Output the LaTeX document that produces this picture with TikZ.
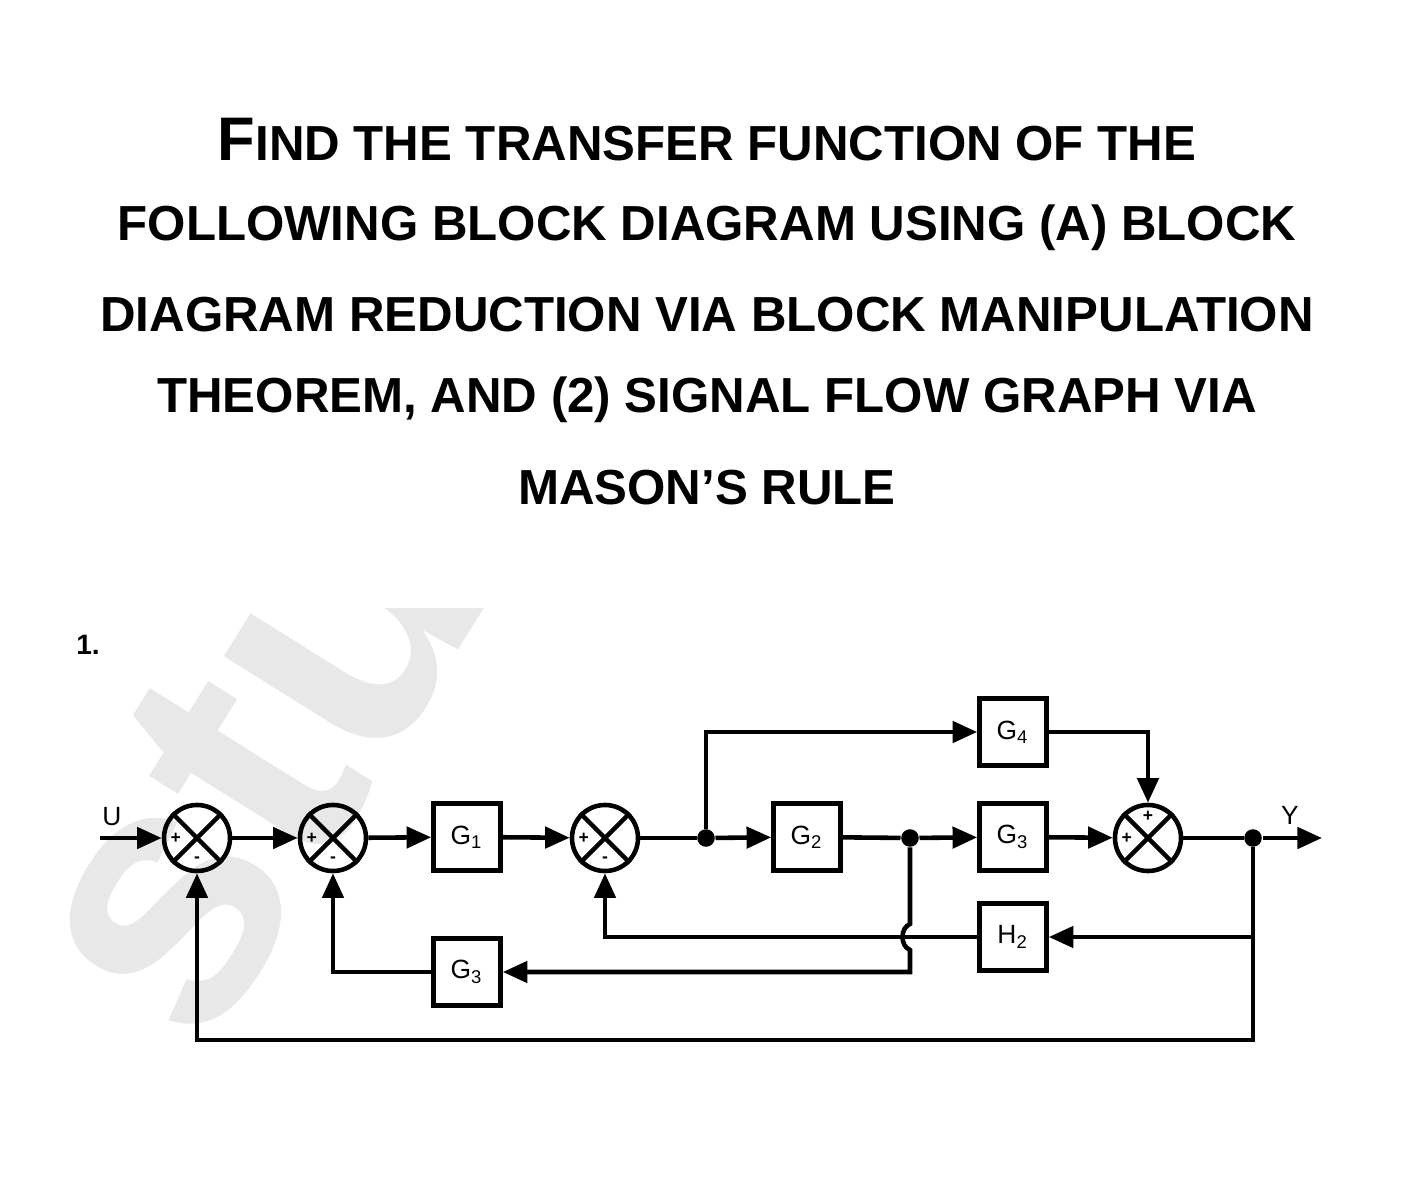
\documentclass[tikz,border=0pt]{standalone}
\usepackage{fontspec}
\setmainfont{Liberation Sans}
\usetikzlibrary{arrows.meta}
\tikzset{
  blk/.style={draw, line width=1.3pt, minimum width=0.67cm, minimum height=0.67cm, inner sep=0pt, font=\fontsize{7.5}{8}\selectfont},
  sumj/.style={draw, circle, line width=1.3pt, minimum size=0.66cm, inner sep=0pt},
  sig/.style={line width=1.3pt, -{Triangle[length=7pt,width=6pt]}},
  wire/.style={line width=1.3pt},
  pnt/.style={circle, fill, inner sep=0pt, minimum size=5pt},
  sgn/.style={font=\fontsize{5}{5}\selectfont\bfseries, inner sep=0pt}
}
\newcommand{\crossx}[1]{\draw[wire] (#1.north west)--(#1.south east) (#1.north east)--(#1.south west);}
\begin{document}
\begin{tikzpicture}[x=0.01cm,y=-0.01cm]
\useasboundingbox (0,0) rectangle (1414,1203);
% watermark
\begin{scope}
\clip (60,608) rectangle (700,1100);
\node[text=black!9, font=\fontsize{105}{105}\selectfont\bfseries, rotate=58] (wm) at (250,760) {stu};
\end{scope}
% title
\begin{scope}[every node/.style={font=\fontsize{14}{14}\selectfont\bfseries}]
\node (t1) at (707,140) {{\fontsize{17.5}{17}\selectfont F}IND THE TRANSFER FUNCTION OF THE};
\node (t2) at (707,228) {FOLLOWING BLOCK DIAGRAM USING (A) BLOCK};
\node (t3) at (707,315) {DIAGRAM REDUCTION VIA BLOCK MANIPULATION};
\node (t4) at (707,400) {THEOREM, AND (2) SIGNAL FLOW GRAPH VIA};
\node (t5) at (707,488) {MASON'S RULE};
\end{scope}
\node[font=\footnotesize\bfseries] (num) at (88,645) {1.};

% blocks
\node[sumj] (s1) at (197,838) {};
\node[sumj] (s2) at (333,838) {};
\node[blk] (g1) at (467,837) {G\textsubscript{1}};
\node[sumj] (s3) at (605,838) {};
\node[pnt] (d1) at (706,838) {};
\node[blk] (g2) at (807,837) {G\textsubscript{2}};
\node[pnt] (d2) at (910,838) {};
\node[blk] (g3) at (1013,837) {G\textsubscript{3}};
\node[blk] (g4) at (1013,732) {G\textsubscript{4}};
\node[sumj] (s4) at (1148,838) {};
\node[pnt] (d3) at (1253,838) {};
\node[blk] (h2) at (1013,937) {H\textsubscript{2}};
\node[blk] (g3b) at (467,972) {G\textsubscript{3}};
\foreach \s in {s1,s2,s3,s4} {\crossx{\s}}
\foreach \s in {s1,s2,s3} {
  \node[sgn] at ([xshift=4pt]\s.west) {+};
  \node[sgn] at ([yshift=4pt]\s.south) {-};
}
\node[sgn] at ([xshift=4pt]s4.west) {+};
\node[sgn] at ([yshift=-4pt]s4.north) {+};
\coordinate (uin) at (100,838);
\coordinate (yout) at (1322,838);
\node[font=\fontsize{7.5}{8}\selectfont] (ul) at (112,817) {U};
\node[font=\fontsize{7.5}{8}\selectfont] (yl) at (1290,815) {Y};

% forward path
\draw[sig] (uin) -- (s1);
\draw[sig] (s1) -- (s2);
\draw[sig] (s2) -- (g1);
\draw[sig] (g1) -- (s3);
\draw[wire] (s3) -- (d1);
\draw[sig] (d1) -- (g2);
\draw[wire] (g2) -- (d2);
\draw[sig] (d2) -- (g3);
\draw[sig] (g3) -- (s4);
\draw[wire] (s4) -- (d3);
\draw[sig] (d3) -- (yout);
\draw[sig] (d1) |- (g4);
\draw[sig] (g4) -| (s4);
% feedback
\draw[sig] (d3) |- (h2);
\draw[sig] (h2) -| (s3);
\draw[sig] (d2) -- (910,924) .. controls (900,928) and (900,946) .. (910,950) -- (910,972) -- (g3b);
\draw[sig] (g3b) -| (s2);
\draw[sig] (d3) -- (1253,1040) -| (s1);
\end{tikzpicture}
\end{document}
